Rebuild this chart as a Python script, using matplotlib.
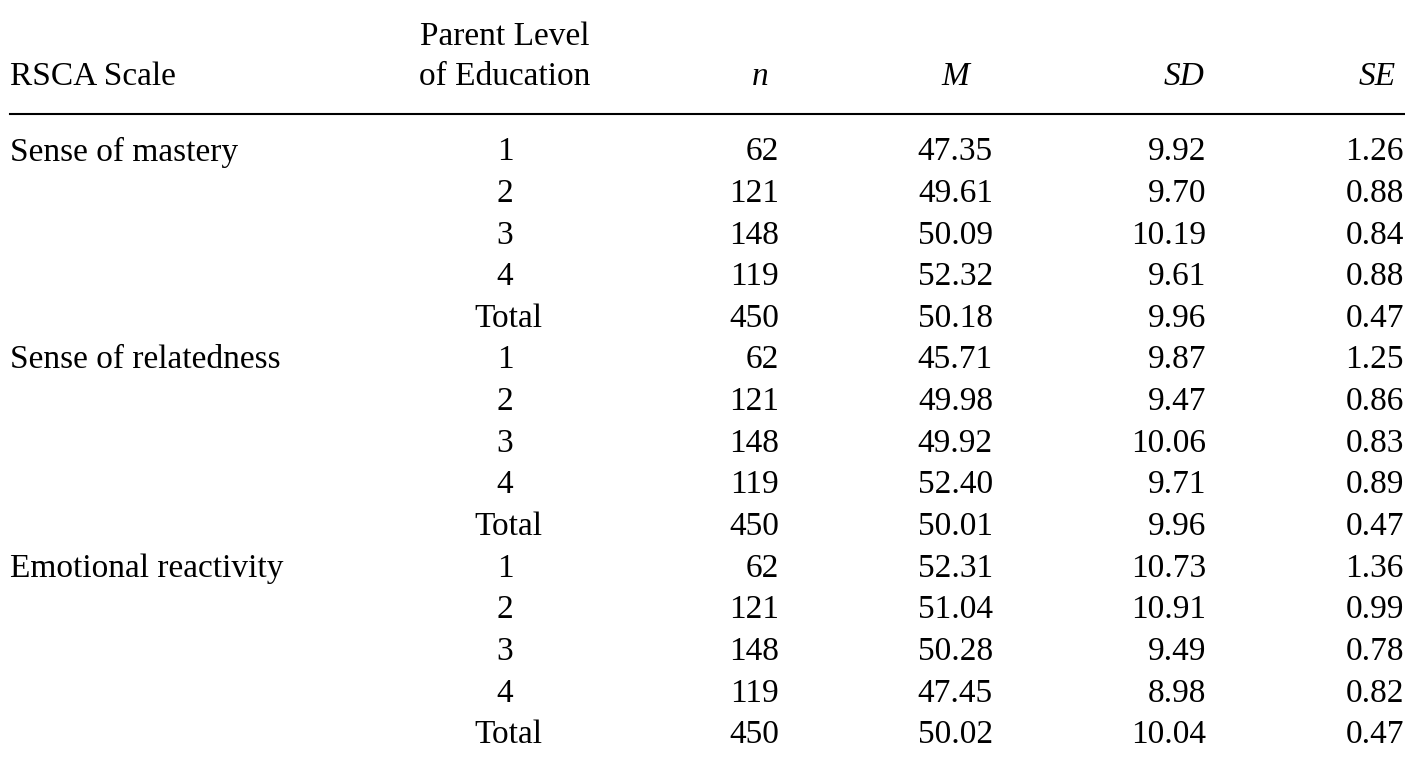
import matplotlib.pyplot as plt

scales = ["Sense of mastery", "Sense of relatedness", "Emotional reactivity"]
levels = ["1", "2", "3", "4", "Total"]
n_vals = [62, 121, 148, 119, 450] * 3
m_vals = ["47.35", "49.61", "50.09", "52.32", "50.18",
          "45.71", "49.98", "49.92", "52.40", "50.01",
          "52.31", "51.04", "50.28", "47.45", "50.02"]
sd_vals = ["9.92", "9.70", "10.19", "9.61", "9.96",
           "9.87", "9.47", "10.06", "9.71", "9.96",
           "10.73", "10.91", "9.49", "8.98", "10.04"]
se_vals = ["1.26", "0.88", "0.84", "0.88", "0.47",
           "1.25", "0.86", "0.83", "0.89", "0.47",
           "1.36", "0.99", "0.78", "0.82", "0.47"]

plt.rcParams['font.family'] = ['Liberation Serif', 'DejaVu Serif']
fs = 24

fig = plt.figure(figsize=(14.05, 7.69), dpi=100)
ax = fig.add_axes([0, 0, 1, 1])
ax.set_xlim(0, 1405)
ax.set_ylim(769, 0)
ax.axis('off')

# en-tete
ax.text(10, 77, "RSCA Scale", fontsize=fs, va='center')
ax.text(505, 37, "Parent Level", fontsize=fs, va='center', ha='center')
ax.text(505, 77, "of Education", fontsize=fs, va='center', ha='center')
ax.text(760, 77, "n", fontsize=fs, va='center', ha='center', style='italic')
ax.text(955, 77, "M", fontsize=fs, va='center', ha='center', style='italic')
ax.text(1184, 77, "SD", fontsize=fs, va='center', ha='center', style='italic')
ax.text(1396, 77, "SE", fontsize=fs, va='center', ha='right', style='italic')
ax.plot([10, 1405], [114, 114], color='black', lw=1.5)

y0, dy = 152, 41.64
for i in range(15):
    y = y0 + i * dy
    if i % 5 == 0:
        ax.text(10, y, scales[i // 5], fontsize=fs, va='center')
    lv = levels[i % 5]
    if lv == "Total":
        ax.text(474, y, lv, fontsize=fs, va='center', ha='left')
    else:
        ax.text(505, y, lv, fontsize=fs, va='center', ha='center')
    ax.text(779, y, str(n_vals[i]), fontsize=fs, va='center', ha='right')
    ax.text(993, y, m_vals[i], fontsize=fs, va='center', ha='right')
    ax.text(1206, y, sd_vals[i], fontsize=fs, va='center', ha='right')
    ax.text(1404, y, se_vals[i], fontsize=fs, va='center', ha='right')

fig.savefig("out.png", dpi=100)
